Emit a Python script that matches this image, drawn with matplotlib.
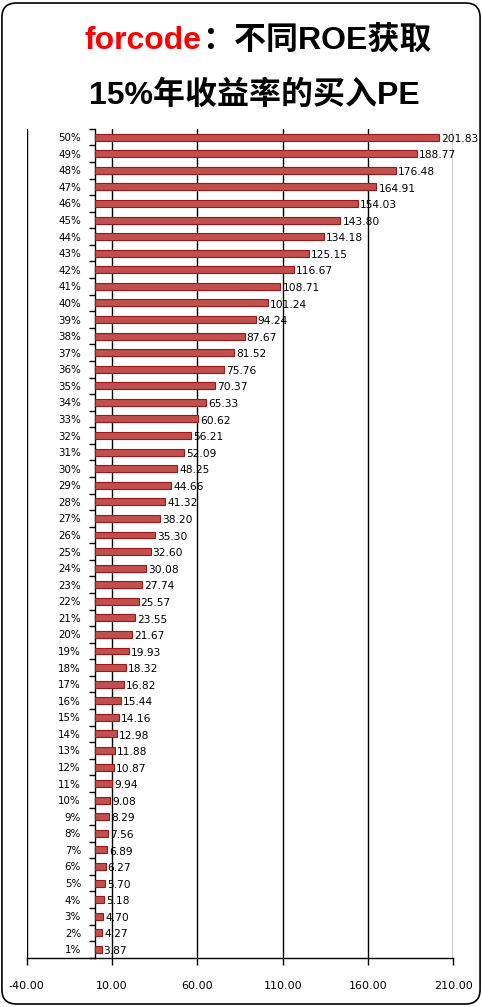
import matplotlib
matplotlib.use("Agg")
import matplotlib.pyplot as plt
from matplotlib.patches import FancyBboxPatch
import numpy as np

plt.rcParams["font.family"] = ["Liberation Sans", "Noto Sans CJK SC", "DejaVu Sans"]

# -----------------------------------------------------
# data
# -----------------------------------------------------
roe_labels = [f"{i}%" for i in range(1, 51)]
pe_values = [3.87, 4.27, 4.70, 5.18, 5.70, 6.27, 6.89, 7.56, 8.29, 9.08,
             9.94, 10.87, 11.88, 12.98, 14.16, 15.44, 16.82, 18.32, 19.93, 21.67,
             23.55, 25.57, 27.74, 30.08, 32.60, 35.30, 38.20, 41.32, 44.66, 48.25,
             52.09, 56.21, 60.62, 65.33, 70.37, 75.76, 81.52, 87.67, 94.24, 101.24,
             108.71, 116.67, 125.15, 134.18, 143.80, 154.03, 164.91, 176.48, 188.77, 201.83]
x_ticks = [-40, 10, 60, 110, 160, 210]

fig = plt.figure(figsize=(4.82, 10.07), dpi=100)

# rounded frame around the whole chart
frame = FancyBboxPatch((0.004, 0.003), 0.992, 0.994,
                       boxstyle="round,pad=0,rounding_size=0.03",
                       transform=fig.transFigure, fill=False,
                       edgecolor="black", linewidth=1.2,
                       mutation_aspect=482 / 1007)
fig.patches.append(frame)

# -----------------------------------------------------
# title (two lines, first word red)
# -----------------------------------------------------
fig.text(0.419, 0.9595, "forcode", color="red", fontsize=23,
         fontweight="bold", ha="right", va="center")
fig.text(0.419, 0.9595, "：不同ROE获取", color="black", fontsize=23,
         fontweight="bold", ha="left", va="center")
fig.text(0.527, 0.905, "15%年收益率的买入PE", color="black", fontsize=23,
         fontweight="bold", ha="center", va="center")

# -----------------------------------------------------
# bar chart
# -----------------------------------------------------
ax = fig.add_axes([0.0554, 0.049, 0.8851, 0.823])

y = np.arange(len(pe_values))
ax.barh(y, pe_values, height=0.42, color="#C0504D",
        edgecolor="#A31515", linewidth=0.8, zorder=3)

for yi, v in zip(y, pe_values):
    ax.text(v + 1.2, yi - 0.1, f"{v:.2f}", fontsize=7.7, va="center",
            ha="left", family="DejaVu Sans", zorder=4)

ax.set_xlim(-40, 210)
ax.set_ylim(-0.5, len(pe_values) - 0.5)
ax.set_xticks(x_ticks)
ax.set_xticklabels([f"{t:.2f}" for t in x_ticks])
ax.set_yticks(y)
ax.set_yticklabels(roe_labels)
ax.set_yticks(np.arange(-0.5, len(pe_values), 1), minor=True)

ax.tick_params(axis="y", which="major", length=0, pad=10,
               labelsize=7.4, labelfontfamily="DejaVu Sans")
ax.tick_params(axis="y", which="minor", length=4, width=1, direction="out")
ax.tick_params(axis="x", which="major", length=5, width=1, direction="out", pad=12,
               labelsize=8, labelfontfamily="DejaVu Sans")

ax.spines["left"].set_position(("data", 0))
ax.spines["top"].set_visible(False)
ax.spines["right"].set_visible(False)
ax.spines["bottom"].set_linewidth(1)
ax.spines["left"].set_linewidth(1)

ax.grid(axis="x", color="black", linewidth=1, zorder=0)
ax.set_axisbelow(True)

fig.savefig("out.png", dpi=100)
